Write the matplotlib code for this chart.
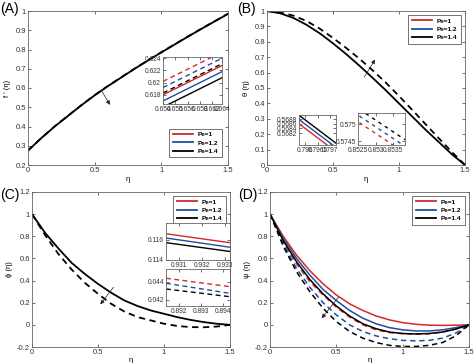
import numpy as np
import matplotlib.pyplot as plt

plt.rcParams['font.family'] = ['Liberation Sans', 'DejaVu Sans']

# ---- data ----
eta = [0, 0.1, 0.2, 0.3, 0.4, 0.5, 0.6, 0.7, 0.8, 0.9, 1.0, 1.1, 1.2, 1.3, 1.4, 1.5]
pe_labels = ['Pe=1', 'Pe=1.2', 'Pe=1.4']
colors = ['#d62828', '#1f4e9c', '#000000']

# (A) f'(eta)
fp_solid = [0.275, 0.34, 0.40, 0.455, 0.51, 0.562, 0.61, 0.655, 0.70, 0.743, 0.785, 0.826, 0.867, 0.907, 0.946, 0.985]
fp_dash = [0.275, 0.34, 0.401, 0.456, 0.511, 0.563, 0.611, 0.656, 0.701, 0.744, 0.786, 0.827, 0.868, 0.908, 0.947, 0.986]
# (B) theta(eta)
th_solid = [1, 0.985, 0.955, 0.91, 0.855, 0.79, 0.72, 0.645, 0.566, 0.485, 0.40, 0.315, 0.23, 0.15, 0.07, 0]
th_dash = [1, 0.99, 0.97, 0.935, 0.885, 0.825, 0.76, 0.69, 0.615, 0.535, 0.448, 0.358, 0.266, 0.175, 0.085, 0]
# (C) phi(eta)
ph_solid = [1, 0.83, 0.69, 0.56, 0.46, 0.37, 0.29, 0.22, 0.17, 0.13, 0.10, 0.07, 0.045, 0.025, 0.01, 0]
ph_dash = [1, 0.81, 0.64, 0.50, 0.38, 0.28, 0.19, 0.12, 0.07, 0.04, 0.01, -0.01, -0.02, -0.022, -0.015, 0]
# (D) psi(eta), one per Pe
ps_solid = [
    [1, 0.80, 0.63, 0.49, 0.37, 0.27, 0.19, 0.13, 0.08, 0.045, 0.02, 0.005, -0.003, -0.005, -0.003, 0],
    [1, 0.78, 0.60, 0.45, 0.32, 0.22, 0.13, 0.06, 0.01, -0.025, -0.045, -0.055, -0.055, -0.045, -0.025, 0],
    [1, 0.76, 0.57, 0.41, 0.28, 0.17, 0.08, 0.01, -0.035, -0.065, -0.078, -0.082, -0.078, -0.065, -0.038, 0],
]
ps_dash = [
    [1, 0.75, 0.55, 0.39, 0.27, 0.16, 0.07, 0.0, -0.045, -0.07, -0.08, -0.085, -0.08, -0.065, -0.038, 0],
    [1, 0.73, 0.51, 0.34, 0.20, 0.09, 0.0, -0.06, -0.10, -0.125, -0.14, -0.145, -0.14, -0.12, -0.075, 0],
    [1, 0.71, 0.48, 0.30, 0.15, 0.03, -0.06, -0.12, -0.16, -0.185, -0.195, -0.195, -0.185, -0.16, -0.10, 0],
]

# inset data (end points of the zoomed segments)
insA_x = [0.654, 0.6565]
insA_solid = [[0.6180, 0.6230], [0.6170, 0.6220], [0.6160, 0.6210]]
insA_dash = [[0.6202, 0.6252], [0.6192, 0.6242], [0.6183, 0.6233]]
insB1_x = [0.79575, 0.7973]
insB1_solid = [[0.56860, 0.56736], [0.56878, 0.56754], [0.56896, 0.56772]]
insB2_x = [0.85254, 0.85384]
insB2_dash = [[0.57505, 0.57414], [0.57525, 0.57434], [0.57545, 0.57454]]
insC1_x = [0.93043, 0.9332]
insC1_solid = [[0.11661, 0.11571], [0.11618, 0.11525], [0.11571, 0.11482]]
insC2_x = [0.89143, 0.89428]
insC2_dash = [[0.04437, 0.04346], [0.04382, 0.04273], [0.04320, 0.04236]]

W, H = 474, 363
fig = plt.figure(figsize=(W / 100, H / 100), dpi=100)


def rect(l, t, r, b):
    return [l / W, 1 - b / H, (r - l) / W, (b - t) / H]


def style(ax, fs=5.5):
    ax.tick_params(direction='in', top=True, right=True, length=2.5, width=0.5,
                   labelsize=fs, colors='#333333', pad=1.5)
    for s in ax.spines.values():
        s.set_linewidth(0.6)
        s.set_color('#666666')


def legend(ax, loc, **kw):
    hs = [plt.Line2D([], [], color=c, lw=1.3) for c in colors]
    lg = ax.legend(hs, pe_labels, loc=loc, fancybox=False, handlelength=3.2,
                   borderpad=0.5, labelspacing=0.45, prop={'weight': 'bold', 'size': 4.6}, **kw)
    lg.get_frame().set_edgecolor('#333333')
    lg.get_frame().set_linewidth(0.6)


def arrow(ax, x0, y0, x1, y1):
    ax.annotate('', xy=(x1, y1), xytext=(x0, y0),
                arrowprops=dict(arrowstyle='-|>', color='#222222', lw=0.5,
                                mutation_scale=6))


dash = (0, (3.5, 2.5))

# ---------------- (A) ----------------
axA = fig.add_axes(rect(28, 11, 228, 165))
axA.plot(eta, fp_solid, color='k', lw=1.3)
axA.plot(eta, fp_dash, color='k', lw=1.3, ls=dash)
axA.set_xlim(0, 1.5)
axA.set_ylim(0.2, 1.0)
axA.set_xticks([0, 0.5, 1, 1.5])
axA.set_xticklabels(['0', '0.5', '1', '1.5'])
axA.set_yticks(np.arange(0.2, 1.01, 0.1))
axA.set_yticklabels(['0.2', '0.3', '0.4', '0.5', '0.6', '0.7', '0.8', '0.9', '1'])
axA.set_ylabel("f ' (η)", fontsize=5.5, labelpad=3)
axA.set_xlabel('η', fontsize=5.5, labelpad=1.5)
style(axA)
arrow(axA, 0.54, 0.60, 0.625, 0.50)
legend(axA, 'lower right', bbox_to_anchor=(0.985, 0.03))
insA = fig.add_axes(rect(163, 57, 222, 104))
for i in range(3):
    insA.plot(insA_x, insA_dash[i], color=colors[i], lw=1.0, ls=dash)
    insA.plot(insA_x, insA_solid[i], color=colors[i], lw=1.0)
insA.set_xlim(0.654, 0.6564)
insA.set_ylim(0.6165, 0.6242)
insA.set_yticks([0.618, 0.62, 0.622, 0.624])
insA.set_yticklabels(['0.618', '0.62', '0.622', '0.624'])
insA.set_xticks([0.654, 0.6545, 0.655, 0.6555, 0.656, 0.6564])
insA.set_xticklabels(['0.654', '0.655', '0.656', '0.658', '0.662', '0.664'])
style(insA, 4.8)

# ---------------- (B) ----------------
axB = fig.add_axes(rect(267, 11, 465, 165))
axB.plot(eta, th_solid, color='k', lw=1.3)
axB.plot(eta, th_dash, color='k', lw=1.3, ls=dash)
axB.set_xlim(0, 1.5)
axB.set_ylim(0, 1.0)
axB.set_xticks([0, 0.5, 1, 1.5])
axB.set_xticklabels(['0', '0.5', '1', '1.5'])
axB.set_yticks(np.arange(0, 1.01, 0.1))
axB.set_yticklabels(['0', '0.1', '0.2', '0.3', '0.4', '0.5', '0.6', '0.7', '0.8', '0.9', '1'])
axB.set_ylabel('θ (η)', fontsize=5.5, labelpad=3)
axB.set_xlabel('η', fontsize=5.5, labelpad=1.5)
style(axB)
arrow(axB, 0.726, 0.556, 0.83, 0.70)
legend(axB, 'upper right', bbox_to_anchor=(0.995, 0.995))
insB1 = fig.add_axes(rect(299, 115, 336, 145))
for i in range(3):
    insB1.plot(insB1_x, insB1_solid[i], color=colors[i], lw=1.0)
insB1.set_xlim(0.79575, 0.79723)
insB1.set_ylim(0.5677, 0.56897)
insB1.set_yticks([0.5682, 0.5684, 0.5686, 0.5688])
insB1.set_yticklabels(['0.5682', '0.5684', '0.5686', '0.5688'])
insB1.set_xticks([0.796, 0.7965, 0.797])
insB1.set_xticklabels(['0.796', '0.7965', '0.797'])
style(insB1, 4.8)
insB2 = fig.add_axes(rect(358, 113, 405, 145))
for i in range(3):
    insB2.plot(insB2_x, insB2_dash[i], color=colors[i], lw=1.0, ls=(0, (2.5, 3)))
insB2.set_xlim(0.85254, 0.85384)
insB2.set_ylim(0.57438, 0.57534)
insB2.set_yticks([0.5745, 0.575])
insB2.set_yticklabels(['0.5745', '0.575'])
insB2.set_xticks([0.8525, 0.853, 0.8535])
insB2.set_xticklabels(['0.8525', '0.853', '0.8535'])
style(insB2, 4.8)

# ---------------- (C) ----------------
axC = fig.add_axes(rect(32, 192, 230, 347))
axC.plot(eta, ph_solid, color='k', lw=1.3)
axC.plot(eta, ph_dash, color='k', lw=1.3, ls=dash)
axC.set_xlim(0, 1.5)
axC.set_ylim(-0.2, 1.2)
axC.set_xticks([0, 0.5, 1, 1.5])
axC.set_xticklabels(['0', '0.5', '1', '1.5'])
axC.set_yticks(np.arange(-0.2, 1.21, 0.2))
axC.set_yticklabels(['-0.2', '0', '0.2', '0.4', '0.6', '0.8', '1', '1.2'])
axC.set_ylabel('ϕ (η)', fontsize=5.5, labelpad=3)
axC.set_xlabel('η', fontsize=5.5, labelpad=1)
style(axC)
arrow(axC, 0.63, 0.36, 0.505, 0.165)
legend(axC, 'upper right', bbox_to_anchor=(0.995, 0.995))
insC1 = fig.add_axes(rect(166, 223, 229.5, 260))
for i in range(3):
    insC1.plot(insC1_x, insC1_solid[i], color=colors[i], lw=1.0)
insC1.set_xlim(0.93043, 0.9332)
insC1.set_ylim(0.11395, 0.1177)
insC1.set_yticks([0.114, 0.116])
insC1.set_yticklabels(['0.114', '0.116'])
insC1.set_xticks([0.931, 0.932, 0.933])
insC1.set_xticklabels(['0.931', '0.932', '0.933'])
style(insC1, 4.8)
insC2 = fig.add_axes(rect(166, 269, 229.5, 306))
for i in range(3):
    insC2.plot(insC2_x, insC2_dash[i], color=colors[i], lw=1.0, ls=dash)
insC2.set_xlim(0.89143, 0.89428)
insC2.set_ylim(0.04134, 0.04538)
insC2.set_yticks([0.042, 0.044])
insC2.set_yticklabels(['0.042', '0.044'])
insC2.set_xticks([0.892, 0.893, 0.894])
insC2.set_xticklabels(['0.892', '0.893', '0.894'])
style(insC2, 4.8)

# ---------------- (D) ----------------
axD = fig.add_axes(rect(270, 192, 469, 347))
for i in range(3):
    axD.plot(eta, ps_solid[i], color=colors[i], lw=1.1)
    axD.plot(eta, ps_dash[i], color=colors[i], lw=1.1, ls=dash)
axD.set_xlim(0, 1.5)
axD.set_ylim(-0.2, 1.2)
axD.set_xticks([0, 0.5, 1, 1.5])
axD.set_xticklabels(['0', '0.5', '1', '1.5'])
axD.set_yticks(np.arange(-0.2, 1.21, 0.2))
axD.set_yticklabels(['-0.2', '0', '0.2', '0.4', '0.6', '0.8', '1', '1.2'])
axD.set_ylabel('ψ (η)', fontsize=5.5, labelpad=3)
axD.set_xlabel('η', fontsize=5.5, labelpad=1)
style(axD)
arrow(axD, 0.53, 0.27, 0.377, 0.04)
legend(axD, 'upper right', bbox_to_anchor=(0.995, 0.995))

# panel letters
for txt, x, y in [('(A)', 0, 2), ('(B)', 237, 2), ('(C)', 0, 188), ('(D)', 238, 188)]:
    fig.text(x / W, 1 - y / H, txt, fontsize=10, va='top', ha='left')

fig.savefig('out.png', dpi=100)
